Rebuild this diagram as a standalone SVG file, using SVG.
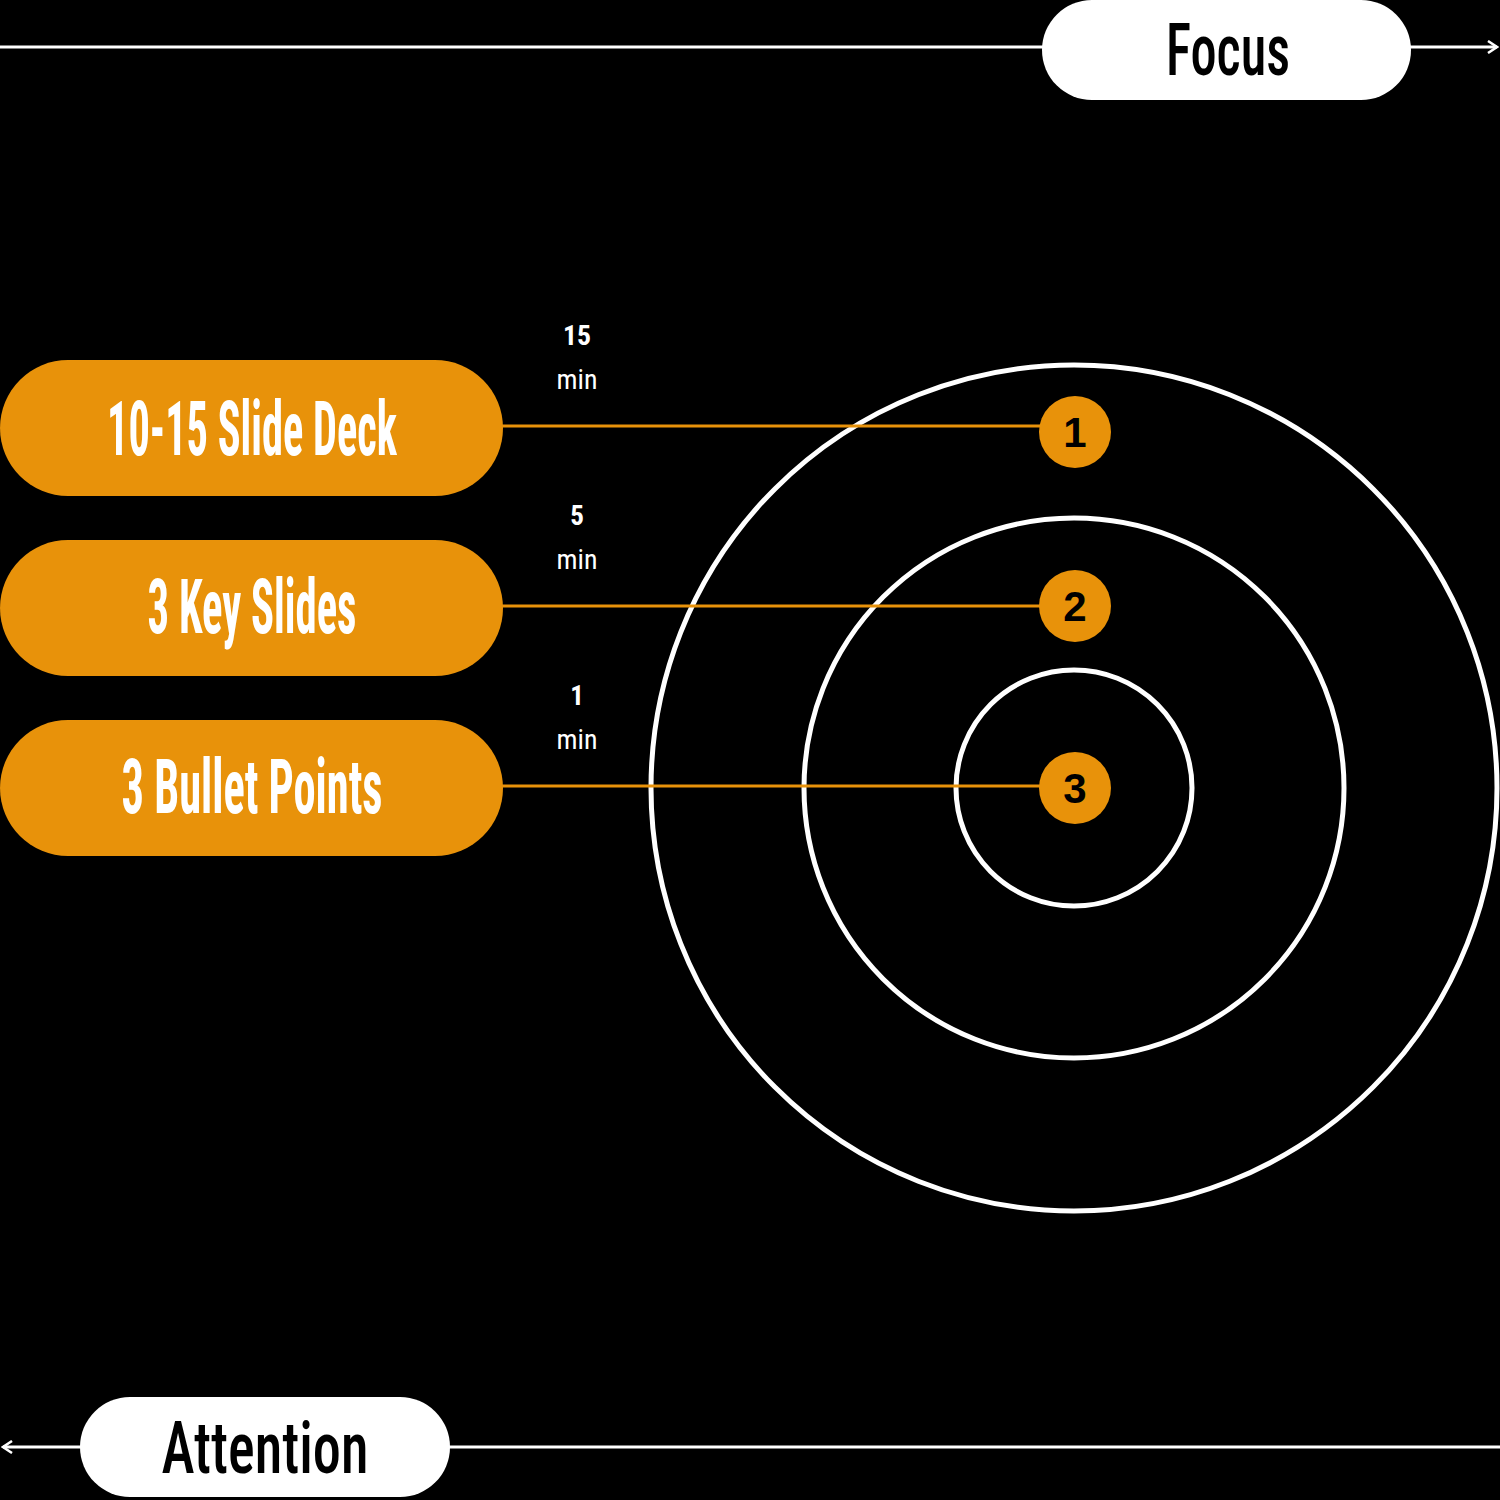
<svg xmlns="http://www.w3.org/2000/svg" width="1500" height="1500" viewBox="0 0 1500 1500">
<defs>
<style>
.pill{fill:#E8920A}
.wpill{fill:#FFFFFF}
.ptxt{font-family:"Liberation Sans Narrow","Roboto Condensed","Liberation Sans",sans-serif;font-size:76px;font-weight:bold;fill:#FFFFFF;text-anchor:middle}
.atxt{font-family:"Liberation Sans Narrow","Roboto Condensed","Liberation Sans",sans-serif;font-size:72px;font-weight:500;fill:#000000;text-anchor:middle}
.ttxt{font-family:"Liberation Sans Narrow","Roboto Condensed","Liberation Sans",sans-serif;font-size:27px;fill:#FFFFFF;text-anchor:middle}
.num{font-family:"Liberation Sans","Open Sans",sans-serif;font-weight:bold;font-size:42px;fill:#000000;text-anchor:middle}
.ring{fill:none;stroke:#FFFFFF;stroke-width:5}
.oline{stroke:#E8920A;stroke-width:3;fill:none}
.axis{stroke:#FFFFFF;stroke-width:3;fill:none}
</style>
<marker id="arr" viewBox="0 0 12 14" refX="10" refY="7" markerWidth="12" markerHeight="14" markerUnits="userSpaceOnUse" orient="auto-start-reverse">
<path d="M1,1 L10,7 L1,13" fill="none" stroke="#FFFFFF" stroke-width="2.5"/>
</marker>
</defs>
<rect x="0" y="0" width="1500" height="1500" fill="#000000"/>
<g id="rings">
<circle class="ring" cx="1074" cy="788" r="423"/>
<circle class="ring" cx="1074" cy="788" r="270"/>
<circle class="ring" cx="1074" cy="788" r="118"/>
</g>
<g id="connectors">
<line class="axis" x1="0" y1="47" x2="1497" y2="47" marker-end="url(#arr)"/>
<line class="axis" x1="1500" y1="1447" x2="3" y2="1447" marker-end="url(#arr)"/>
<line class="oline" x1="500" y1="426" x2="1042" y2="426"/>
<line class="oline" x1="500" y1="606" x2="1042" y2="606"/>
<line class="oline" x1="500" y1="786" x2="1042" y2="786"/>
</g>
<g id="focus">
<rect class="wpill" x="1042" y="0" width="369" height="100" rx="50"/>
<text class="atxt" x="1228" y="75" textLength="124" lengthAdjust="spacingAndGlyphs">Focus</text>
</g>
<g id="attention">
<rect class="wpill" x="80" y="1397" width="370" height="100" rx="50"/>
<text class="atxt" x="265" y="1473" textLength="207" lengthAdjust="spacingAndGlyphs">Attention</text>
</g>
<g id="deck">
<rect class="pill" x="0" y="360" width="503" height="136" rx="68"/>
<text class="ptxt" x="252" y="455" textLength="290" lengthAdjust="spacingAndGlyphs">10-15 Slide Deck</text>
</g>
<g id="keyslides">
<rect class="pill" x="0" y="540" width="503" height="136" rx="68"/>
<text class="ptxt" x="252" y="633" textLength="209" lengthAdjust="spacingAndGlyphs">3 Key Slides</text>
</g>
<g id="bullets">
<rect class="pill" x="0" y="720" width="503" height="136" rx="68"/>
<text class="ptxt" x="252" y="813" textLength="261" lengthAdjust="spacingAndGlyphs">3 Bullet Points</text>
</g>
<g id="time15">
<text class="ttxt" x="577" y="345" font-size="31" font-weight="bold" textLength="28" lengthAdjust="spacingAndGlyphs">15</text>
<text class="ttxt" x="577" y="389" textLength="41" lengthAdjust="spacingAndGlyphs">min</text>
</g>
<g id="time5">
<text class="ttxt" x="577" y="525" font-size="31" font-weight="bold">5</text>
<text class="ttxt" x="577" y="569" textLength="41" lengthAdjust="spacingAndGlyphs">min</text>
</g>
<g id="time1">
<text class="ttxt" x="577" y="705" font-size="31" font-weight="bold">1</text>
<text class="ttxt" x="577" y="749" textLength="41" lengthAdjust="spacingAndGlyphs">min</text>
</g>
<g id="n1">
<circle class="pill" cx="1075" cy="432" r="36"/>
<text class="num" x="1075" y="447">1</text>
</g>
<g id="n2">
<circle class="pill" cx="1075" cy="606" r="36"/>
<text class="num" x="1075" y="621">2</text>
</g>
<g id="n3">
<circle class="pill" cx="1075" cy="788" r="36"/>
<text class="num" x="1075" y="803">3</text>
</g>
</svg>
